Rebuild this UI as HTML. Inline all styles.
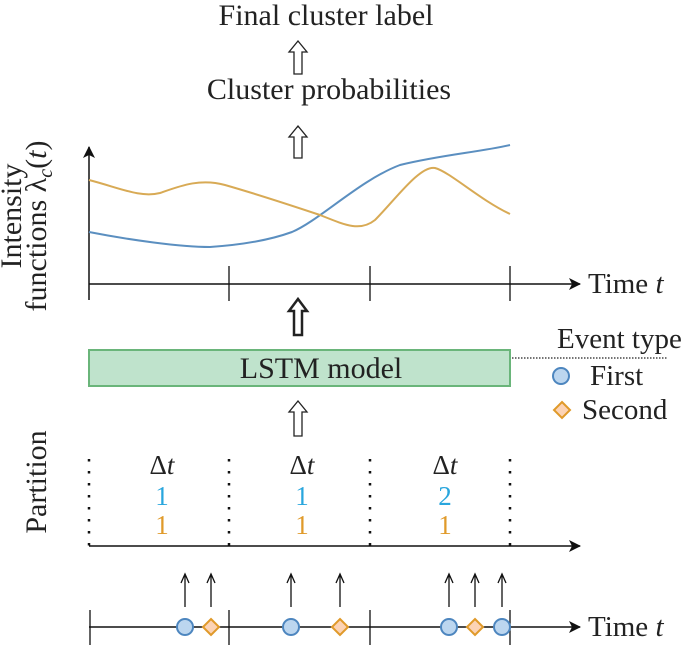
<!DOCTYPE html>
<html><head><style>
html,body{margin:0;padding:0;background:#fff;}
svg{display:block;}
text{font-family:"Liberation Serif",serif;fill:#222;}
</style></head><body>
<svg width="685" height="645" viewBox="0 0 685 645" xmlns="http://www.w3.org/2000/svg">
<defs>
<marker id="ah" markerWidth="12" markerHeight="12" refX="11" refY="6" orient="auto" markerUnits="userSpaceOnUse">
<path d="M0,0 L12,6 L0,12 L3,6 Z" fill="#111"/></marker>
</defs>
<text x="326" y="25" font-size="30" text-anchor="middle">Final cluster label</text>
<text x="329" y="99" font-size="30" text-anchor="middle">Cluster probabilities</text>
<g fill="#fff" stroke="#222" stroke-width="1.3">
<path d="M298,41 L307,52 L302,52 L302,74 L294,74 L294,52 L289,52 Z"/>
<path d="M298,126 L307,137 L302,137 L302,158 L294,158 L294,137 L289,137 Z"/>
<path d="M298,299 L307,311 L302,311 L302,335 L294,335 L294,311 L289,311 Z" stroke-width="2.5"/>
<path d="M298,401 L307,412 L302,412 L302,436 L294,436 L294,412 L289,412 Z"/>
</g>
<line x1="89" y1="300" x2="89" y2="147" stroke="#111" stroke-width="1.5" marker-end="url(#ah)"/>
<line x1="89" y1="284" x2="580" y2="284" stroke="#111" stroke-width="1.5" marker-end="url(#ah)"/>
<g stroke="#111" stroke-width="1.3">
<line x1="229" y1="266" x2="229" y2="301"/><line x1="370" y1="266" x2="370" y2="301"/><line x1="510" y1="266" x2="510" y2="301"/>
</g>
<path d="M89,232 C130,240 180,247 210,247 C240,245 270,240 292,232 C320,220 360,180 400,165 C440,155 480,152 510,145" fill="none" stroke="#5b8fc0" stroke-width="2"/>
<path d="M89,180 C120,188 140,198 160,193 C180,186 200,178 225,185 C260,195 290,205 320,215 C345,225 360,232 375,220 C395,200 420,165 435,168 C450,172 480,200 510,214" fill="none" stroke="#d8aa55" stroke-width="2"/>
<text x="588" y="293" font-size="29">Time <tspan font-style="italic">t</tspan></text>
<text transform="translate(21,216) rotate(-90)" font-size="30" text-anchor="middle">Intensity</text>
<text transform="translate(46,226) rotate(-90)" font-size="30" text-anchor="middle">functions λ<tspan font-style="italic" font-size="20" dy="6">c</tspan><tspan dy="-6">(</tspan><tspan font-style="italic">t</tspan>)</text>
<rect x="89" y="350" width="421" height="36" fill="#bfe3cc" stroke="#6ab57a" stroke-width="2"/>
<text x="321" y="378" font-size="30" text-anchor="middle">LSTM model</text>
<text x="557" y="348" font-size="29">Event type</text>
<line x1="512" y1="358" x2="667" y2="358" stroke="#222" stroke-width="1.3" stroke-dasharray="1.5,1.5"/>
<circle cx="561" cy="376" r="8" fill="#bcd6ef" stroke="#4d86bf" stroke-width="2"/>
<text x="590" y="385" font-size="29">First</text>
<path d="M562,402 L570,410 L562,418 L554,410 Z" fill="#fcd3b5" stroke="#e09a2a" stroke-width="2"/>
<text x="582" y="419" font-size="29">Second</text>
<text transform="translate(46,482) rotate(-90)" font-size="30" text-anchor="middle">Partition</text>
<g stroke="#111" stroke-width="2.5" stroke-dasharray="2.5,9.5">
<line x1="89" y1="459" x2="89" y2="546"/><line x1="229" y1="459" x2="229" y2="546"/><line x1="370" y1="459" x2="370" y2="546"/><line x1="510" y1="459" x2="510" y2="546"/>
</g>
<line x1="89" y1="546" x2="580" y2="546" stroke="#111" stroke-width="1.5" marker-end="url(#ah)"/>
<g font-size="27" text-anchor="middle">
<text x="162" y="474">Δ<tspan font-style="italic">t</tspan></text>
<text x="302" y="474">Δ<tspan font-style="italic">t</tspan></text>
<text x="445" y="474">Δ<tspan font-style="italic">t</tspan></text>
<text x="162" y="505" style="fill:#29a6dd">1</text>
<text x="302" y="505" style="fill:#29a6dd">1</text>
<text x="445" y="505" style="fill:#29a6dd">2</text>
<text x="162" y="534" style="fill:#e09a2a">1</text>
<text x="302" y="534" style="fill:#e09a2a">1</text>
<text x="445" y="534" style="fill:#e09a2a">1</text>
</g>
<g stroke="#111" stroke-width="1.3" fill="none">
<path d="M185,607 V575 M181,583 L185,574 L189,583"/>
<path d="M211,607 V575 M207,583 L211,574 L215,583"/>
<path d="M291,607 V575 M287,583 L291,574 L295,583"/>
<path d="M340,607 V575 M336,583 L340,574 L344,583"/>
<path d="M449,607 V575 M445,583 L449,574 L453,583"/>
<path d="M475,607 V575 M471,583 L475,574 L479,583"/>
<path d="M502,607 V575 M498,583 L502,574 L506,583"/>
</g>
<line x1="89" y1="627" x2="580" y2="627" stroke="#111" stroke-width="1.5" marker-end="url(#ah)"/>
<g stroke="#111" stroke-width="1.3">
<line x1="90" y1="610" x2="90" y2="645"/><line x1="229" y1="610" x2="229" y2="645"/><line x1="370" y1="610" x2="370" y2="645"/><line x1="510" y1="610" x2="510" y2="645"/>
</g>
<g fill="#bcd6ef" stroke="#4d86bf" stroke-width="2">
<circle cx="185" cy="627" r="8"/><circle cx="291" cy="627" r="8"/><circle cx="449" cy="627" r="8"/><circle cx="502" cy="627" r="8"/>
</g>
<g fill="#fcd3b5" stroke="#e09a2a" stroke-width="2">
<path d="M211,619 L219,627 L211,635 L203,627 Z"/>
<path d="M340,619 L348,627 L340,635 L332,627 Z"/>
<path d="M475,619 L483,627 L475,635 L467,627 Z"/>
</g>
<text x="588" y="636" font-size="29">Time <tspan font-style="italic">t</tspan></text>
</svg>
</body></html>
